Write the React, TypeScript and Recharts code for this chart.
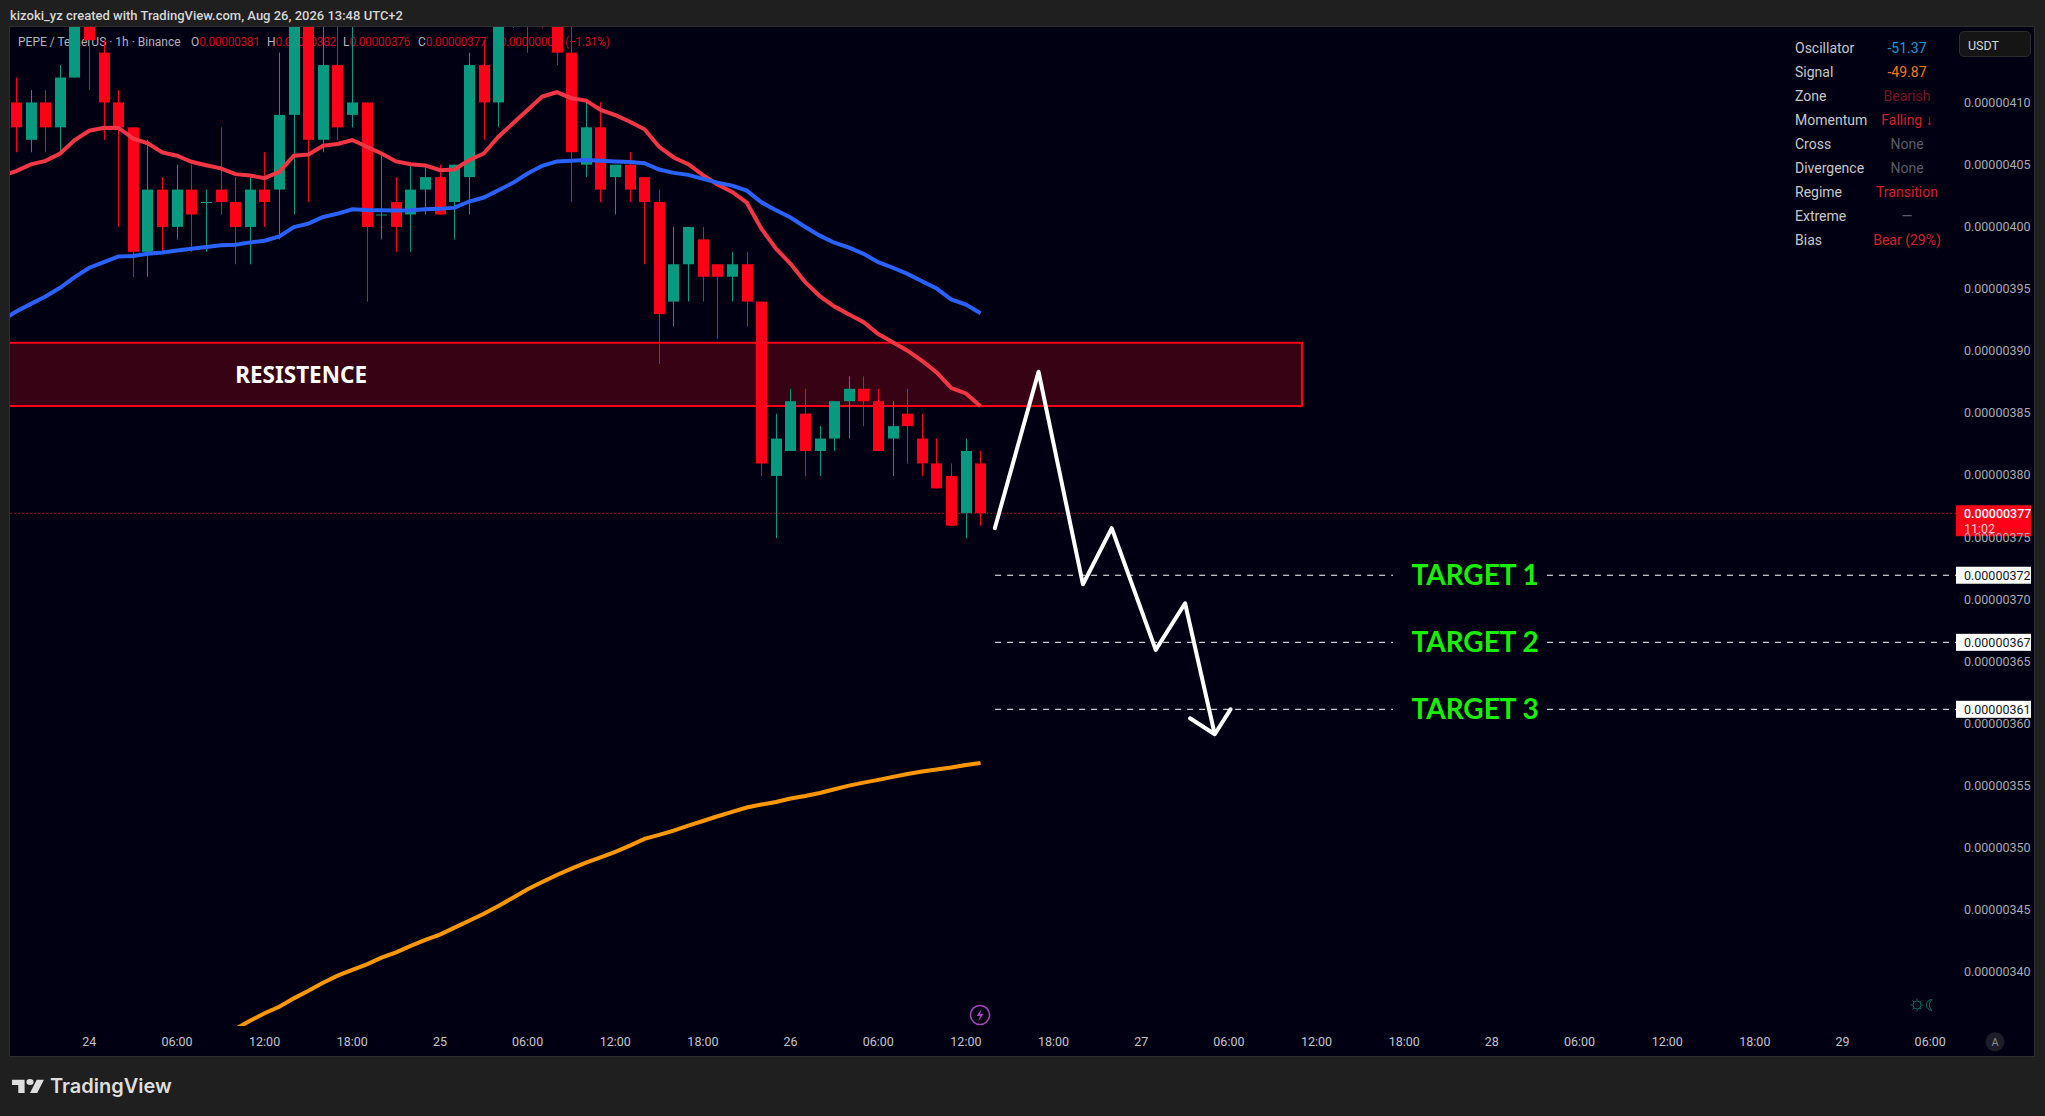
import React from 'react';
import { ComposedChart, Bar, Line, XAxis, YAxis, ReferenceArea, ReferenceLine, ReferenceDot } from 'recharts';

// All prices are in units of 0.00000001 USDT; hours are counted from Aug 24 00:00.
const hours = [-6,-5,-4,-3,-2,-1,0,1,2,3,4,5,6,7,8,9,10,11,12,13,14,15,16,17,18,19,20,21,22,23,24,25,26,27,28,29,30,31,32,33,34,35,36,37,38,39,40,41,42,43,44,45,46,47,48,49,50,51,52,53,54,55,56,57,58,59,60,61];
const opens = [408,410,407,410,408,412,418,414,410,408,398,403,400,403,402,403,402,400,403,403,409,418,407,413,409,410,401,402,401,403,404,402,404,413,410,417,420,418,417,414,405,408,404,405,404,402,394,397,399,397,396,397,394,380,382,385,382,383,386,387,386,383,385,383,381,380,377,381];
const highs = [411,412,411,411,413,418,419,415,411,408,407,404,405,405,403,408,404,404,406,414,418,419,417,417,417,410,406,404,405,405,405,405,414,415,418,421,421,420,418,417,410,410,405,406,404,403,400,400,400,397,398,398,394,385,387,387,384,386,388,388,387,386,387,385,383,381,383,382];
const lows = [406,406,406,406,406,412,411,407,400,396,396,398,399,398,398,401,397,397,400,399,401,402,406,407,408,394,399,398,398,401,401,399,401,407,408,416,414,416,413,402,404,402,401,402,397,389,392,394,394,391,394,392,380,375,382,380,380,382,383,384,382,380,381,380,379,376,375,376];
const closes = [410,408,410,408,412,417,415,410,408,398,403,400,403,401,402,402,400,403,402,409,417,407,413,408,410,400,401,400,403,404,401,405,413,410,417,420,418,417,414,406,408,403,405,403,402,393,397,400,396,396,397,394,381,383,386,382,383,386,387,386,382,384,384,381,379,376,382,377];
const emaFast = [404.1,404.48,405.02,405.31,405.9,406.98,407.73,407.97,407.95,407.11,406.71,405.98,405.72,405.23,404.96,404.7,404.24,404.13,403.92,404.43,405.72,405.82,406.52,406.66,406.98,406.44,405.9,405.26,405.04,404.94,404.56,404.61,405.37,405.9,407.25,408.32,409.4,410.47,410.82,410.34,410.15,409.4,408.99,408.45,407.84,406.44,405.58,405.04,404.16,403.41,402.81,401.95,399.86,398.25,397.04,395.56,394.44,393.6,392.96,392.34,391.4,390.73,390.06,389.25,388.31,387.05,386.62,385.6];
const emaSlow = [392.47,393.2,393.82,394.41,395.11,395.97,396.72,397.17,397.63,397.66,397.85,397.95,398.11,398.25,398.38,398.52,398.57,398.76,398.89,399.24,399.99,400.26,400.8,401.07,401.42,401.36,401.34,401.31,401.34,401.42,401.45,401.55,402.04,402.36,402.95,403.54,404.29,404.91,405.26,405.31,405.37,405.31,405.26,405.21,405.12,404.61,404.34,404.18,403.86,403.56,403.32,402.92,401.98,401.34,400.75,400,399.3,398.73,398.33,397.84,397.17,396.72,396.23,395.64,395.05,394.17,393.76,393.06];
const emaLongHours = [10,11,12,13,14,15,16,17,18,19,20,21,22,23,24,25,26,27,28,29,30,31,32,33,34,35,36,37,38,39,40,41,42,43,44,45,46,47,48,49,50,51,52,53,54,55,56,57,58,59,60,61];
const emaLong = [335.57,336.24,336.83,337.36,338.03,338.65,339.29,339.85,340.31,340.76,341.3,341.73,342.24,342.72,343.15,343.71,344.27,344.83,345.45,346.12,346.79,347.38,347.94,348.45,348.93,349.36,349.8,350.3,350.84,351.16,351.51,351.91,352.28,352.66,353.01,353.36,353.6,353.81,354.08,354.29,354.53,354.83,355.12,355.36,355.58,355.82,356.06,356.25,356.41,356.57,356.78,356.94];
const pathHours = [61.98,64.97,68.01,69.98,72.99,75.0,77.03,75.34,77.03,78.11];
const pathPrices = [375.8,388.37,371.29,375.8,366.02,369.77,359.25,360.53,359.25,361.25];

const yTicks = [410,405,400,395,390,385,380,375,370,365,360,355,350,345,340];
const xTicks = [0,6,12,18,24,30,36,42,48,54,60,66,72,78,84,90,96,102,108,114,120,126];
const xLabels = ['24','06:00','12:00','18:00','25','06:00','12:00','18:00','26','06:00','12:00','18:00','27','06:00','12:00','18:00','28','06:00','12:00','18:00','29','06:00'];

const resistenceTop = 390.7;
const resistenceBottom = 385.61;
const resistenceEndHour = 83.0;
const lastPrice = 377;
const targetNames = ['TARGET 1', 'TARGET 2', 'TARGET 3'];
const targetPrices = [372.02, 366.63, 361.25];
const targetLabels = ['0.00000372', '0.00000367', '0.00000361'];

const legendRows = ['Oscillator','Signal','Zone','Momentum','Cross','Divergence','Regime','Extreme','Bias'];
const legendValues = ['-51.37','-49.87','Bearish','Falling ↓','None','None','Transition','—','Bear (29%)'];
const legendColors = ['#1e98dc','#f57a1c','#7a1420','#d3202b','#5b5b68','#5b5b68','#d3202b','#5b5b68','#d3202b'];

const RED = '#ff0019';
const GREEN = '#089981';
const FONT = 'Roboto, sans-serif';
const tMin = -5.428;
const tMax = 128.04;

const rows = hours.map((t, i) => ({
  t, open: opens[i], high: highs[i], low: lows[i], close: closes[i],
  fast: emaFast[i], slow: emaSlow[i],
  long: emaLongHours.includes(t) ? emaLong[emaLongHours.indexOf(t)] : undefined,
}));
const pathRows = pathHours.map((t, i) => ({ t, p: pathPrices[i] }));

const Candle = (props: any) => {
  const { x, y, width, height, payload } = props;
  const { open, close, high, low } = payload;
  const unit = height / (high - low);
  const up = close >= open;
  const color = up ? GREEN : RED;
  const top = y + (high - Math.max(open, close)) * unit;
  const bodyH = Math.max(Math.abs(open - close) * unit, 1);
  const cx = Math.round(x + width / 2);
  return (
    <g>
      <rect x={cx} y={y} width={1} height={height} fill={color} />
      <rect x={cx - 5} y={top} width={11} height={bodyH} fill={color} />
    </g>
  );
};

const priceBox = (text: string, sub?: string) => (props: any) => {
  const vb = props.viewBox;
  const cx = vb.x + (vb.width || 0) / 2;
  const cy = vb.y + (vb.height || 0) / 2;
  const left = cx - 4;
  if (sub) {
    return (
      <g>
        <rect x={left} y={cy - 8} width={75} height={31} fill={RED} />
        <text x={left + 8} y={cy} dominantBaseline="central" fontSize={12.5} fontWeight={500} fill="#ffffff" fontFamily={FONT}>{text}</text>
        <text x={left + 8} y={cy + 15} dominantBaseline="central" fontSize={12.5} fill="#ffc9cf" fontFamily={FONT}>{sub}</text>
      </g>
    );
  }
  return (
    <g>
      <rect x={left} y={cy - 8.5} width={75} height={17} fill="#ffffff" />
      <text x={left + 8} y={cy} dominantBaseline="central" fontSize={12.5} fill="#131722" fontFamily={FONT}>{text}</text>
    </g>
  );
};

const PriceTick = (props: any) => (
  <text x={1964} y={props.y - (410 - props.payload.value) * 0.03} dominantBaseline="central" fontSize={12.5} fontFamily={FONT} fill="#a8abb3">
    {(props.payload.value / 1e8).toFixed(8)}
  </text>
);

const Abs = ({ x, y, children, style }: any) => (
  <div style={{ position: 'absolute', left: x, top: y, transform: 'translateY(-50%)', whiteSpace: 'pre', fontFamily: FONT, ...style }}>{children}</div>
);

const G = { color: '#b2b5be' };
const R = { color: '#c9081e', letterSpacing: -0.35 };
const LEG = { fontSize: 12 };

export default function App() {
  return (
    <div style={{ position: 'absolute', left: 0, top: 0, width: 2045, height: 1116, background: '#1f1f1f', overflow: 'hidden' }}>
      <Abs x={10} y={15} style={{ fontSize: 13, fontWeight: 500, color: '#d6d6d6' }}>kizoki_yz created with TradingView.com, Aug 26, 2026 13:48 UTC+2</Abs>
      <div style={{ position: 'absolute', left: 9, top: 26, width: 2024, height: 1029, background: '#010012', border: '1px solid #2e2e2e' }} />
      <Abs x={18} y={42} style={LEG}><span style={G}>PEPE / TetherUS · 1h · Binance</span></Abs>
      <Abs x={191} y={42} style={LEG}><span style={G}>O</span><span style={R}>0.00000381</span></Abs>
      <Abs x={267} y={42} style={LEG}><span style={G}>H</span><span style={R}>0.00000382</span></Abs>
      <Abs x={343} y={42} style={LEG}><span style={G}>L</span><span style={R}>0.00000376</span></Abs>
      <Abs x={418} y={42} style={LEG}><span style={G}>C</span><span style={R}>0.00000377</span></Abs>
      <Abs x={493} y={42} style={LEG}><span style={R}>−0.00000005</span></Abs>
      <Abs x={565} y={42} style={LEG}><span style={R}>(−1.31%)</span></Abs>

      <div style={{ position: 'absolute', left: 0, top: 0 }}>
        <ComposedChart width={2045} height={1116} data={rows} margin={{ top: 27, left: 10, right: 10, bottom: 60 }} barCategoryGap={0}>
          <XAxis
            dataKey="t" type="number" scale="linear" domain={[tMin, tMax]} allowDataOverflow
            ticks={xTicks} interval={0} axisLine={false} tickLine={false} tickSize={0} height={30} tickMargin={11}
            tickFormatter={(v: number) => xLabels[xTicks.indexOf(v)]}
            tick={{ fill: '#c4c6cc', fontSize: 12.5, fontFamily: FONT }}
          />
          <YAxis
            orientation="right" type="number" domain={[335.81, 416.06]} allowDataOverflow
            ticks={yTicks} interval={0} axisLine={false} tickLine={false} tickSize={0} width={75}
            tick={<PriceTick />}
          />
          <ReferenceArea x1={-7} x2={resistenceEndHour} y1={resistenceBottom} y2={resistenceTop} ifOverflow="hidden" fill="#370213" fillOpacity={1} stroke={RED} strokeWidth={2} />
          <ReferenceLine y={lastPrice} stroke={RED} strokeOpacity={0.9} strokeWidth={1} strokeDasharray="1.5 2.5" />
          <Line dataKey="fast" stroke="#f23645" strokeWidth={4} dot={false} activeDot={false} isAnimationActive={false} />
          <Line dataKey="slow" stroke="#2962ff" strokeWidth={4} dot={false} activeDot={false} isAnimationActive={false} />
          <Line dataKey="long" stroke="#ff9800" strokeWidth={4} dot={false} activeDot={false} isAnimationActive={false} />
          <Bar dataKey={(r: any) => [r.low, r.high]} barSize={11} shape={<Candle />} isAnimationActive={false} />
          {targetPrices.map((p, i) => (
            <ReferenceLine key={'a' + i} segment={[{ x: 62.0, y: p }, { x: 89.23, y: p }]} stroke="#ffffff" strokeWidth={1} strokeDasharray="6 6" />
          ))}
          {targetPrices.map((p, i) => (
            <ReferenceLine key={'b' + i} segment={[{ x: 99.77, y: p }, { x: tMax, y: p }]} stroke="#ffffff" strokeWidth={1} strokeDasharray="6 6" />
          ))}
          <Line data={pathRows} dataKey="p" stroke="#ffffff" strokeWidth={4} strokeLinejoin="round" strokeLinecap="round" dot={false} activeDot={false} isAnimationActive={false} />
          <ReferenceDot x={14.5} y={388.1} r={0} stroke="none" label={{ value: 'RESISTENCE', position: 'center', fill: '#ffffff', fontSize: 22.5, fontWeight: 700, fontFamily: '"Noto Sans", sans-serif' }} />
          {targetNames.map((n, i) => (
            <ReferenceDot key={n} x={94.85} y={targetPrices[i]} r={0} stroke="none" label={{ value: n, position: 'center', fill: '#17f000', fontSize: 28, fontWeight: 700, fontFamily: 'Lato, sans-serif' }} />
          ))}
          <ReferenceDot x={tMax} y={lastPrice} r={0} stroke="none" label={{ content: priceBox('0.00000377', '11:02') }} />
          {targetPrices.map((p, i) => (
            <ReferenceDot key={'l' + i} x={tMax} y={p} r={0} stroke="none" label={{ content: priceBox(targetLabels[i]) }} />
          ))}
        </ComposedChart>
      </div>

      {legendRows.map((l, i) => (
        <React.Fragment key={l}>
          <Abs x={1795} y={48.3 + 24 * i} style={{ fontSize: 14, color: '#c8c8cc' }}>{l}</Abs>
          <Abs x={1907} y={48.3 + 24 * i} style={{ fontSize: 14, color: legendColors[i], transform: 'translate(-50%, -50%)' }}>{legendValues[i]}</Abs>
        </React.Fragment>
      ))}
      <div style={{ position: 'absolute', left: 1959, top: 31, width: 70, height: 24, background: '#151515', border: '1px solid #2c2c2c', borderRadius: 5 }} />
      <Abs x={1968} y={44.5} style={{ fontSize: 12.5, color: '#d6d6d6' }}>USDT</Abs>

      <svg style={{ position: 'absolute', left: 0, top: 0 }} width={2045} height={1116}>
        <circle cx={980} cy={1015} r={9.5} fill="none" stroke="#a945c0" strokeWidth={1.6} />
        <path d="M981.5 1009 L976.5 1016 L980 1016 L978.5 1021 L983.5 1014 L980 1014 Z" fill="#a945c0" />
        <g stroke="#0a6d5c" strokeWidth={1} fill="none">
          <circle cx={1917} cy={1005} r={4} />
          <path d="M1917 998.5v2M1917 1009.5v2M1910.5 1005h2M1921.5 1005h2M1912.5 1000.5l1.4 1.4M1920 1008l1.4 1.4M1912.5 1009.5l1.4-1.4M1920 1002l1.4-1.4" />
          <path d="M1932 999.5a5.5 5.5 0 1 0 0 11a7 7 0 0 1 0 -11z" />
        </g>
        <circle cx={1995} cy={1041.7} r={9.5} fill="#1d1d28" />
        <text x={1995} y={1042} textAnchor="middle" dominantBaseline="central" fontSize={11} fontFamily={FONT} fill="#8a8a92">A</text>
        <g transform="translate(12 1076.8) scale(0.9 0.74)" fill="#dedede">
          <path d="M14 22H7V11H0V4h14v18zM28 22h-8l7.5-18h8L28 22z" />
          <circle cx="20" cy="7" r="4" />
        </g>
        <text x={50} y={1086} dominantBaseline="central" fontSize={20} fontWeight={600} fontFamily="Inter, sans-serif" fill="#dedede">TradingView</text>
      </svg>
    </div>
  );
}
